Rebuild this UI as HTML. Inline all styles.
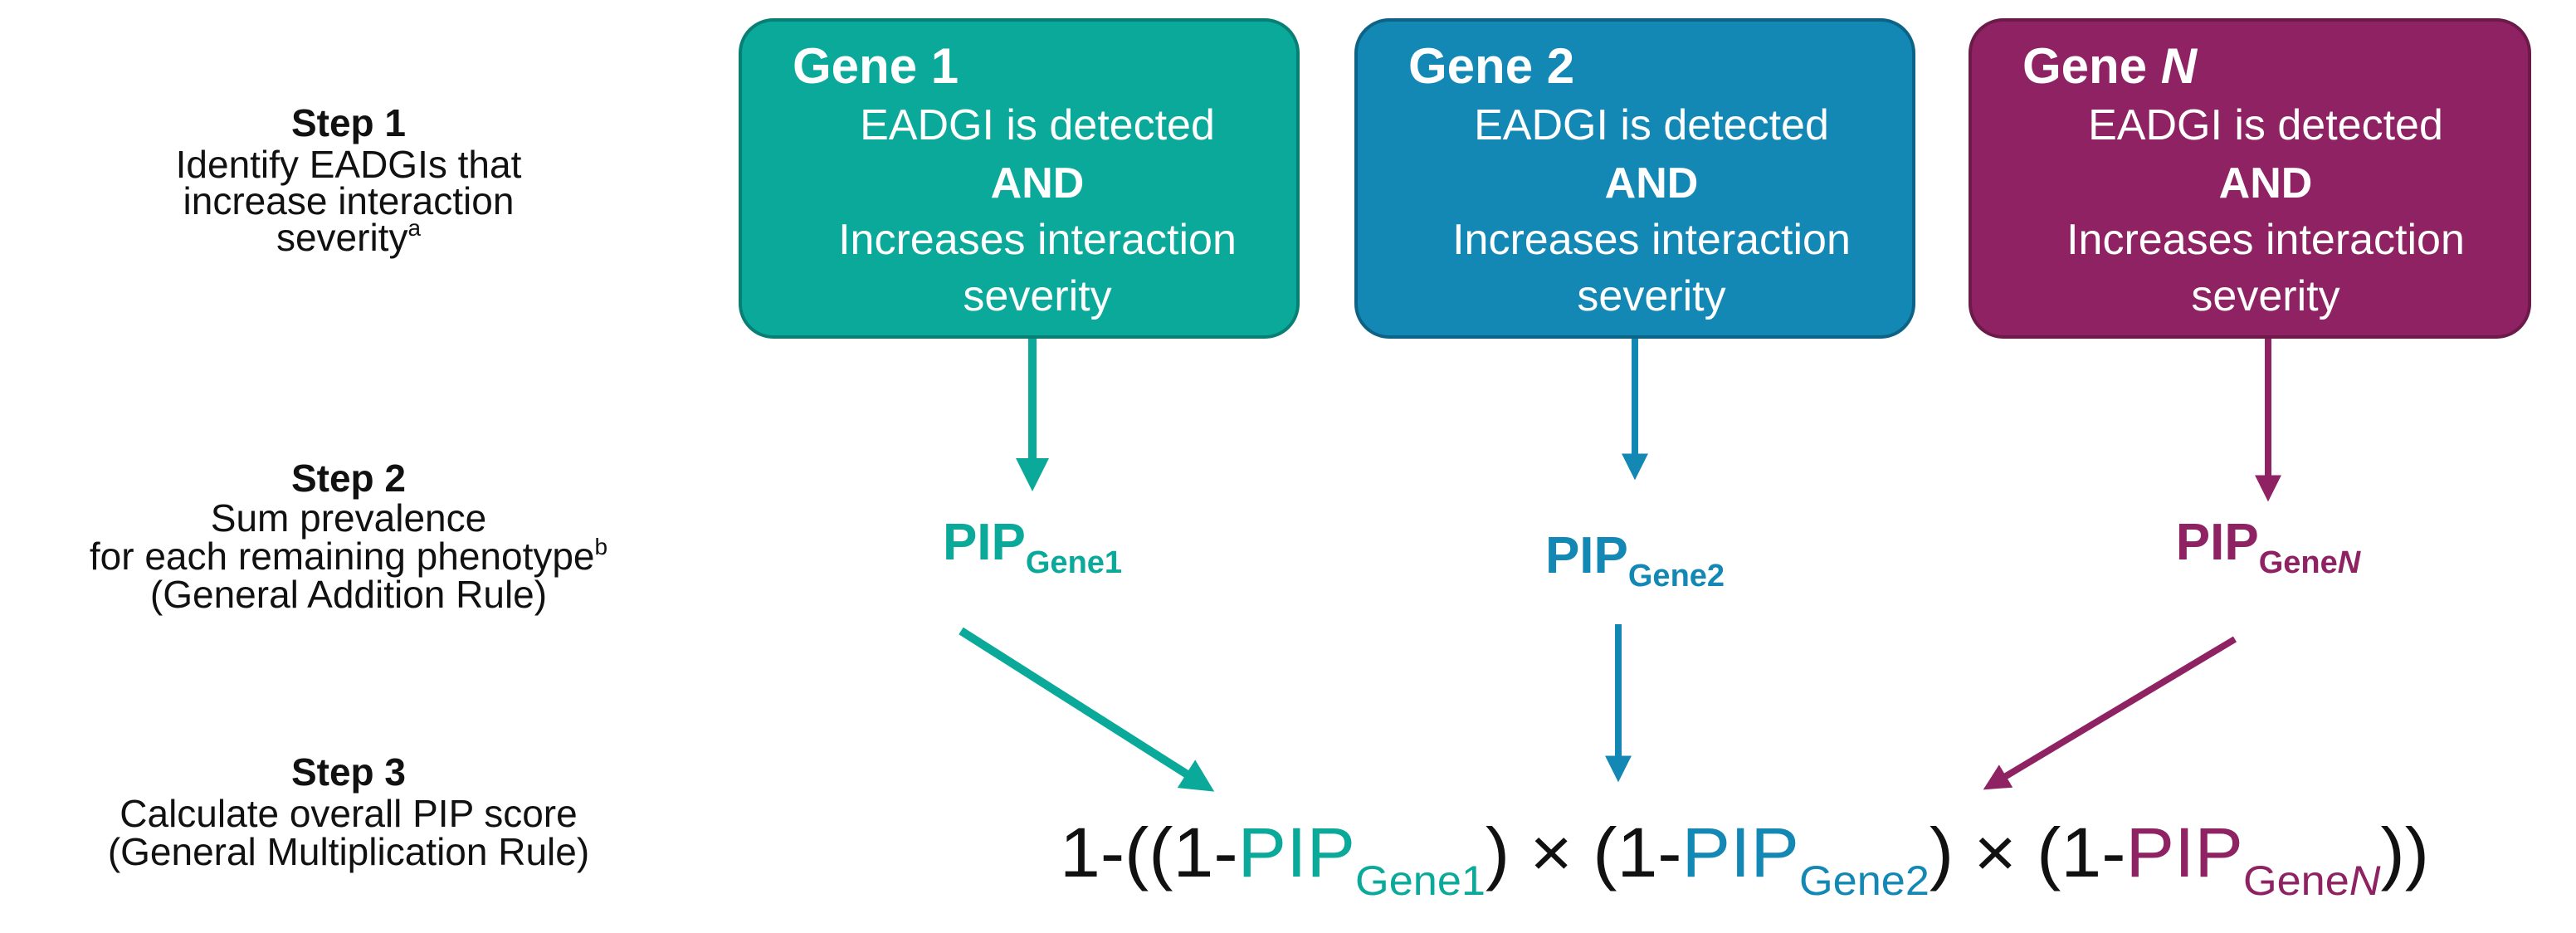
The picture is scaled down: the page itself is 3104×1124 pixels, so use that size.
<!DOCTYPE html>
<html><head><meta charset="utf-8"><style>
html,body{margin:0;padding:0;background:#fff;}
svg{display:block;}
text{font-family:"Liberation Sans",Arial,sans-serif;}
</style></head><body>
<svg width="3104" height="1124" viewBox="0 0 3104 1124" xmlns="http://www.w3.org/2000/svg">
<defs>
<marker id="at" markerWidth="4" markerHeight="4" refX="2.2" refY="2" orient="auto" markerUnits="strokeWidth"><path d="M0,0 L4,2 L0,4 Z" fill="#0aa99a"/></marker>
<marker id="ab" markerWidth="4" markerHeight="4" refX="2.2" refY="2" orient="auto" markerUnits="strokeWidth"><path d="M0,0 L4,2 L0,4 Z" fill="#1388b5"/></marker>
<marker id="ap" markerWidth="4" markerHeight="4" refX="2.2" refY="2" orient="auto" markerUnits="strokeWidth"><path d="M0,0 L4,2 L0,4 Z" fill="#8e2263"/></marker>
</defs>

<g font-size="46" fill="#111" text-anchor="middle">
<text x="420" y="164" font-weight="bold">Step 1</text>
<text x="420" y="214">Identify EADGIs that</text>
<text x="420" y="258">increase interaction</text>
<text x="420" y="302">severity<tspan font-size="28" dy="-18">a</tspan></text>

<text x="420" y="592" font-weight="bold">Step 2</text>
<text x="420" y="640">Sum prevalence</text>
<text x="420" y="686">for each remaining phenotype<tspan font-size="28" dy="-18">b</tspan></text>
<text x="420" y="732">(General Addition Rule)</text>

<text x="420" y="946" font-weight="bold">Step 3</text>
<text x="420" y="996">Calculate overall PIP score</text>
<text x="420" y="1042">(General Multiplication Rule)</text>
</g>

<rect x="892" y="24" width="672" height="382" rx="40" fill="#0aa99a" stroke="#087f74" stroke-width="4"/>
<rect x="1634" y="24" width="672" height="382" rx="40" fill="#1388b5" stroke="#0d6386" stroke-width="4"/>
<rect x="2374" y="24" width="674" height="382" rx="40" fill="#8e2263" stroke="#6b1a4a" stroke-width="4"/>

<g fill="#fff">
<text x="955" y="100" font-size="60" font-weight="bold">Gene 1</text>
<text x="1697" y="100" font-size="60" font-weight="bold">Gene 2</text>
<text x="2437" y="100" font-size="60" font-weight="bold">Gene <tspan font-style="italic">N</tspan></text>
<g font-size="52" text-anchor="middle">
<text x="1250" y="168">EADGI is detected</text>
<text x="1250" y="238" font-weight="bold">AND</text>
<text x="1250" y="306">Increases interaction</text>
<text x="1250" y="374">severity</text>
<text x="1990" y="168">EADGI is detected</text>
<text x="1990" y="238" font-weight="bold">AND</text>
<text x="1990" y="306">Increases interaction</text>
<text x="1990" y="374">severity</text>
<text x="2730" y="168">EADGI is detected</text>
<text x="2730" y="238" font-weight="bold">AND</text>
<text x="2730" y="306">Increases interaction</text>
<text x="2730" y="374">severity</text>
</g></g>

<line x1="1244" y1="408" x2="1244" y2="574" stroke="#0aa99a" stroke-width="10" marker-end="url(#at)"/>
<line x1="1970" y1="408" x2="1970" y2="564" stroke="#1388b5" stroke-width="8" marker-end="url(#ab)"/>
<line x1="2733" y1="408" x2="2733" y2="590" stroke="#8e2263" stroke-width="8" marker-end="url(#ap)"/>

<g font-size="62" font-weight="bold" text-anchor="middle">
<text x="1244" y="674" fill="#0aa99a">PIP<tspan font-size="38" dy="16">Gene1</tspan></text>
<text x="1970" y="690" fill="#1388b5">PIP<tspan font-size="38" dy="16">Gene2</tspan></text>
<text x="2733" y="674" fill="#8e2263">PIP<tspan font-size="38" dy="16">Gene<tspan font-style="italic">N</tspan></tspan></text>
</g>

<line x1="1158" y1="760" x2="1448" y2="944" stroke="#0aa99a" stroke-width="10" marker-end="url(#at)"/>
<line x1="1950" y1="752" x2="1950" y2="928" stroke="#1388b5" stroke-width="8" marker-end="url(#ab)"/>
<line x1="2693" y1="770" x2="2402" y2="944" stroke="#8e2263" stroke-width="8" marker-end="url(#ap)"/>

<text x="1277" y="1056" font-size="84" fill="#111" textLength="1650" lengthAdjust="spacingAndGlyphs">1-((1-<tspan fill="#0aa99a">PIP<tspan font-size="50" dy="22">Gene1</tspan></tspan><tspan dy="-22">) × (1-</tspan><tspan fill="#1388b5">PIP<tspan font-size="50" dy="22">Gene2</tspan></tspan><tspan dy="-22">) × (1-</tspan><tspan fill="#8e2263">PIP<tspan font-size="50" dy="22">Gene<tspan font-style="italic">N</tspan></tspan></tspan><tspan dy="-22">))</tspan></text>
</svg>
</body></html>
